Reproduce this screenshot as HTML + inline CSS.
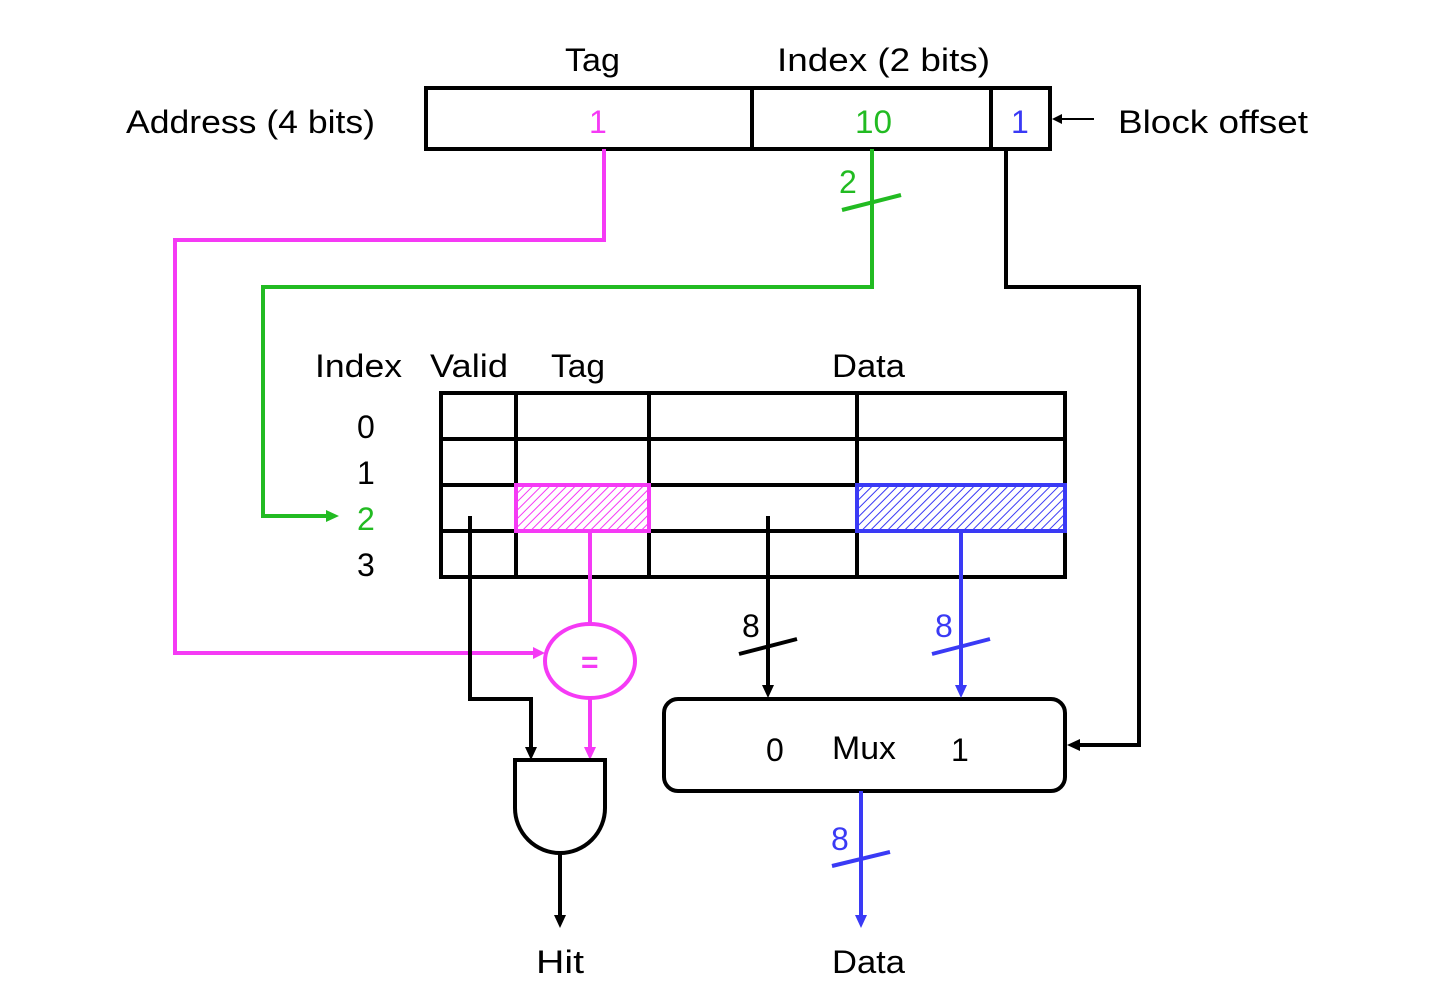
<!DOCTYPE html>
<html><head><meta charset="utf-8"><style>
html,body{margin:0;padding:0;background:#fff;}
svg{display:block;}
text{font-family:"Liberation Sans","DejaVu Sans",sans-serif;font-size:32px;}
</style></head><body>
<svg width="1440" height="1003" viewBox="0 0 1440 1003" xmlns="http://www.w3.org/2000/svg">
<defs>
<pattern id="hm" patternUnits="userSpaceOnUse" width="6" height="6" patternTransform="rotate(45)"><rect width="6" height="6" fill="#fff"/><line x1="0" y1="0" x2="0" y2="6" stroke="#f53af5" stroke-width="2"/></pattern>
<pattern id="hb" patternUnits="userSpaceOnUse" width="6" height="6" patternTransform="rotate(45)"><rect width="6" height="6" fill="#fff"/><line x1="0" y1="0" x2="0" y2="6" stroke="#3a3af5" stroke-width="2"/></pattern>
</defs>
<g fill="#000">
<text x="126" y="133" textLength="249" lengthAdjust="spacingAndGlyphs">Address (4 bits)</text>
<text x="565" y="71" textLength="55" lengthAdjust="spacingAndGlyphs">Tag</text>
<text x="777" y="71" textLength="213" lengthAdjust="spacingAndGlyphs">Index (2 bits)</text>
<text x="1118" y="133" textLength="190" lengthAdjust="spacingAndGlyphs">Block offset</text>
<text x="315" y="377" textLength="87" lengthAdjust="spacingAndGlyphs">Index</text>
<text x="430" y="377" textLength="78" lengthAdjust="spacingAndGlyphs">Valid</text>
<text x="551" y="377" textLength="54" lengthAdjust="spacingAndGlyphs">Tag</text>
<text x="832" y="377" textLength="73" lengthAdjust="spacingAndGlyphs">Data</text>
<text x="357" y="438">0</text>
<text x="357" y="484">1</text>
<text x="357" y="576">3</text>
<text x="536" y="973" textLength="48" lengthAdjust="spacingAndGlyphs">Hit</text>
<text x="832" y="973" textLength="73" lengthAdjust="spacingAndGlyphs">Data</text>
<text x="766" y="761">0</text>
<text x="832" y="759" textLength="64" lengthAdjust="spacingAndGlyphs">Mux</text>
<text x="951" y="761">1</text>
<text x="742" y="637">8</text>
</g>
<text x="357" y="530" fill="#22bb22">2</text>
<text x="839" y="193" fill="#22bb22">2</text>
<text x="855" y="133" fill="#22bb22" textLength="37" lengthAdjust="spacingAndGlyphs">10</text>
<text x="589" y="133" fill="#f53af5">1</text>
<text x="1011" y="133" fill="#3a3af5">1</text>
<text x="935" y="637" fill="#3a3af5">8</text>
<text x="831" y="850" fill="#3a3af5">8</text>
<text x="581" y="672" fill="#f53af5" style="font-size:30px;font-weight:bold">=</text>

<rect x="426" y="88" width="624" height="61" fill="none" stroke="#000" stroke-width="4"/>
<line x1="752" y1="88" x2="752" y2="149" stroke="#000" stroke-width="4"/>
<line x1="991" y1="88" x2="991" y2="149" stroke="#000" stroke-width="4"/>
<line x1="1094" y1="119" x2="1058" y2="119" stroke="#000" stroke-width="2"/>
<path d="M1052 119 L1062 114 L1062 124 Z" fill="#000"/>

<rect x="516" y="485" width="133" height="46" fill="url(#hm)"/>
<rect x="857" y="485" width="208" height="46" fill="url(#hb)"/>
<g stroke="#000" stroke-width="4" fill="none">
<rect x="441" y="393" width="624" height="184"/>
<line x1="441" y1="439" x2="1065" y2="439"/>
<line x1="441" y1="485" x2="1065" y2="485"/>
<line x1="441" y1="531" x2="1065" y2="531"/>
<line x1="516" y1="393" x2="516" y2="577"/>
<line x1="649" y1="393" x2="649" y2="577"/>
<line x1="857" y1="393" x2="857" y2="577"/>
</g>
<rect x="516" y="485" width="133" height="46" fill="none" stroke="#f53af5" stroke-width="4"/>
<rect x="857" y="485" width="208" height="46" fill="none" stroke="#3a3af5" stroke-width="4"/>

<g stroke="#f53af5" stroke-width="4" fill="none">
<polyline points="604,149 604,240 175,240 175,653 536,653"/>
<line x1="590" y1="531" x2="590" y2="624"/>
<line x1="590" y1="698" x2="590" y2="748"/>
<ellipse cx="590" cy="661" rx="45" ry="37"/>
</g>
<path d="M545 653 L533 647 L533 659 Z" fill="#f53af5"/>
<path d="M590 760 L584 747 L596 747 Z" fill="#f53af5"/>

<g stroke="#22bb22" stroke-width="4" fill="none">
<polyline points="872,149 872,287 263,287 263,516 328,516"/>
<line x1="842" y1="210" x2="901" y2="195"/>
</g>
<path d="M339 516 L326 510 L326 522 Z" fill="#22bb22"/>

<g stroke="#000" stroke-width="4" fill="none">
<polyline points="470,516 470,699 531,699 531,748"/>
<line x1="768" y1="516" x2="768" y2="686"/>
<line x1="739" y1="654" x2="797" y2="639"/>
<polyline points="1006,149 1006,287 1139,287 1139,745 1078,745"/>
<path d="M515 760 L605 760 L605 808 A45 45 0 0 1 515 808 Z"/>
<line x1="560" y1="852" x2="560" y2="915"/>
<rect x="664" y="699" width="401" height="92" rx="14"/>
</g>
<path d="M531 760 L525 747 L537 747 Z" fill="#000"/>
<path d="M768 698 L762 685 L774 685 Z" fill="#000"/>
<path d="M1067 745 L1080 739 L1080 751 Z" fill="#000"/>
<path d="M560 928 L554 915 L566 915 Z" fill="#000"/>

<g stroke="#3a3af5" stroke-width="4" fill="none">
<line x1="961" y1="531" x2="961" y2="686"/>
<line x1="932" y1="654" x2="990" y2="639"/>
<line x1="861" y1="791" x2="861" y2="915"/>
<line x1="832" y1="866" x2="890" y2="852"/>
</g>
<path d="M961 698 L955 685 L967 685 Z" fill="#3a3af5"/>
<path d="M861 928 L855 915 L867 915 Z" fill="#3a3af5"/>
</svg>
</body></html>
